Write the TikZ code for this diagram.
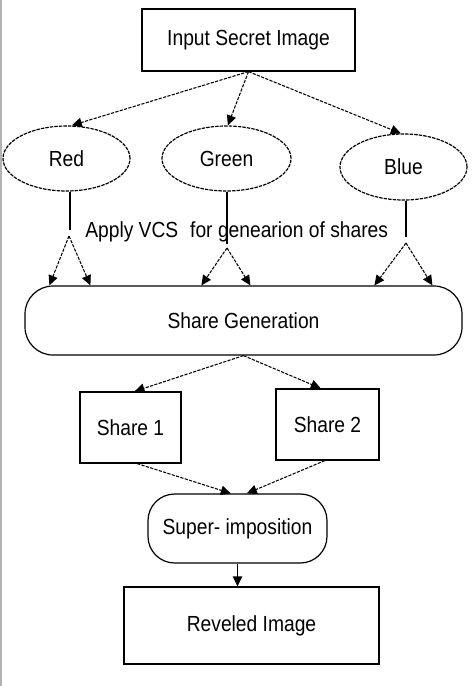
\documentclass[tikz,border=0pt]{standalone}
\usepackage{fontspec}
\setmainfont[FakeStretch=0.88]{Liberation Sans}
\usetikzlibrary{shapes.geometric,arrows.meta}
\begin{document}
\begin{tikzpicture}[x=0.75pt,y=-0.75pt,
  lbl/.style={font=\fontsize{16.4}{18}\selectfont},
  box/.style={draw, line width=0.9pt, inner sep=0pt, lbl},
  oval/.style={ellipse, draw, line width=0.9pt, dash pattern=on 2.6pt off 0.8pt, inner sep=0pt, lbl},
  rbox/.style={draw, line width=0.9pt, inner sep=0pt, lbl},
  arr/.style={-{Triangle[length=7.5pt,width=7pt]}, line width=0.8pt, dash pattern=on 2.4pt off 1pt},
  sarr/.style={-{Triangle[length=7.5pt,width=7pt]}, line width=0.9pt},
  vline/.style={line width=0.9pt}]
\useasboundingbox (0,0) rectangle (474,686);
\draw[gray!60, line width=1pt] (1,0) -- (1,686);

\node[box, minimum width=159.75pt, minimum height=46.5pt] (In) at (248.5,40) {Input Secret Image};
\node[oval, minimum width=95.25pt, minimum height=48.75pt] (Red) at (66.5,158.5) {Red};
\node[oval, minimum width=96.75pt, minimum height=48.75pt] (Green) at (226.5,158.5) {Green};
\node[oval, minimum width=95.25pt, minimum height=49.5pt] (Blue) at (403.5,167) {Blue};
\node[rbox, rounded corners=21pt, minimum width=327.75pt, minimum height=51.75pt] (SG) at (243.5,320.5) {Share Generation};
\node[box, minimum width=75.75pt, minimum height=53.25pt] (S1) at (130.5,427.5) {Share 1};
\node[box, minimum width=77.25pt, minimum height=53.25pt] (S2) at (327.5,424.5) {Share 2};
\node[rbox, rounded corners=20pt, minimum width=134.25pt, minimum height=51.75pt] (Sup) at (237.5,528.5) {Super- imposition};
\node[box, minimum width=191.25pt, minimum height=57.75pt] (Rev) at (251.5,625.5) {Reveled Image};

\node[lbl, anchor=west, inner sep=0pt] (txt) at (85,232) {Apply VCS\hspace{0.3em} for genearion of shares};

% from input
\draw[arr] (In.south) -- ([xshift=4pt]Red.north);
\draw[arr] (In.south) -- ([xshift=1pt]Green.north);
\draw[arr] (In.south) -- ([xshift=-2pt]Blue.north);

% vertical stems
\coordinate (ra) at (70,230);
\coordinate (ga) at (227,244);
\coordinate (ba) at (406,237);
\draw[vline] (Red.south -| ra) -- (ra);
\draw[vline] (Green.south -| ga) -- (ga);
\draw[vline] (Blue.south -| ba) -- (ba);

% apexes
\coordinate (rp) at (69,236);
\coordinate (gp) at (227,248);
\coordinate (bp) at (406,243);
\path (SG.north west) ++(25,0) coordinate (r1);
\path (SG.north west) ++(66,0) coordinate (r2);
\path (SG.north west) ++(177,0) coordinate (g1);
\path (SG.north west) ++(226,0) coordinate (g2);
\path (SG.north west) ++(350,0) coordinate (b1);
\path (SG.north west) ++(408,0) coordinate (b2);
\draw[arr] (rp) -- (r1);
\draw[arr] (rp) -- (r2);
\draw[arr] (gp) -- (g1);
\draw[arr] (gp) -- (g2);
\draw[arr] (bp) -- (b1);
\draw[arr] (bp) -- (b2);

% shares
\draw[arr] (SG.south) -- ([xshift=3pt]S1.north);
\draw[arr] (SG.south) -- ([xshift=-5pt]S2.north);
\draw[arr] ([xshift=5pt]S1.south) -- ([xshift=-5pt]Sup.north);
\draw[arr] ([xshift=-2pt]S2.south) -- ([xshift=7pt]Sup.north);
\draw[sarr] (Sup.south) -- (Sup.south |- Rev.north);
\end{tikzpicture}
\end{document}
